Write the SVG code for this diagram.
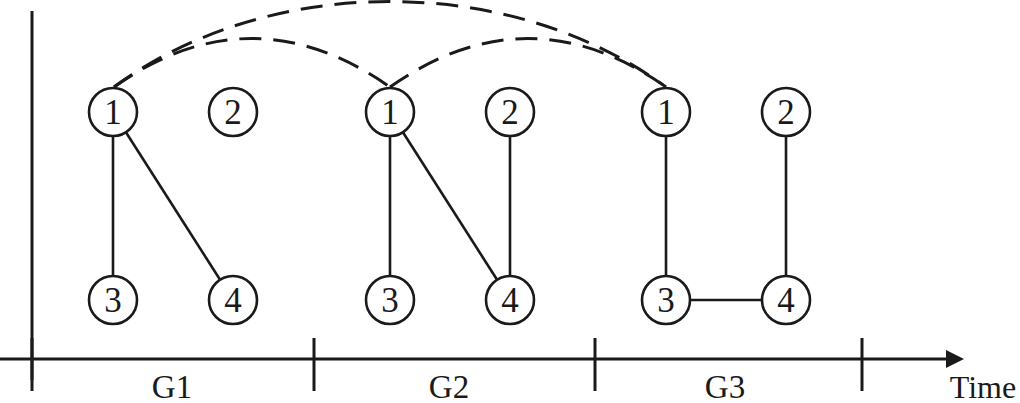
<svg xmlns="http://www.w3.org/2000/svg" width="1020" height="403" viewBox="0 0 1020 403">
<style>
.n circle{fill:#fff;stroke:#1a1a1a;stroke-width:2.6}
.n text{font-family:"Liberation Serif","Times New Roman",serif;font-size:35px;fill:#1a1a1a;text-anchor:middle}
.e{stroke:#1a1a1a;stroke-width:2.6;fill:none}
.d{stroke:#1a1a1a;stroke-width:3;fill:none;stroke-dasharray:22 12}
.ax{stroke:#1a1a1a;stroke-width:3;fill:none}
.lb{font-family:"Liberation Serif","Times New Roman",serif;font-size:33px;fill:#1a1a1a;text-anchor:middle}
</style>
<defs>
<marker id="arr" markerWidth="20" markerHeight="20" refX="0" refY="9" orient="auto" markerUnits="userSpaceOnUse">
<path d="M0,0 L18,9 L0,18 Z" fill="#1a1a1a"/>
</marker>
</defs>
<g id="axes">
<line class="ax" x1="32" y1="11" x2="32" y2="380"/>
<line class="ax" x1="0" y1="359" x2="946" y2="359" marker-end="url(#arr)"/>
<line class="ax" x1="32" y1="338" x2="32" y2="391"/>
<line class="ax" x1="314" y1="338" x2="314" y2="391"/>
<line class="ax" x1="595" y1="338" x2="595" y2="391"/>
<line class="ax" x1="862" y1="338" x2="862" y2="391"/>
<text class="lb" x="172" y="398">G1</text>
<text class="lb" x="449" y="398">G2</text>
<text class="lb" x="725" y="398">G3</text>
<text class="lb" x="983" y="398" style="font-size:32px">Time</text>
</g>
<g id="connectors">
<line class="e" x1="113" y1="112" x2="113" y2="300"/>
<line class="e" x1="113" y1="112" x2="233" y2="300"/>
<line class="e" x1="390" y1="112" x2="390" y2="300"/>
<line class="e" x1="390" y1="112" x2="510" y2="300"/>
<line class="e" x1="510" y1="112" x2="510" y2="300"/>
<line class="e" x1="666" y1="112" x2="666" y2="300"/>
<line class="e" x1="786" y1="112" x2="786" y2="300"/>
<line class="e" x1="666" y1="300" x2="786" y2="300"/>
<path class="d" d="M114,87 Q251,-10 390,87"/>
<path class="d" d="M390,87 Q528,-10 666,87"/>
<path class="d" d="M114,87 C270,-27 510,-27 666,87"/>
</g>
<g id="g1n1" class="n"><circle cx="113" cy="112" r="24"/><text x="113" y="124">1</text></g>
<g id="g1n2" class="n"><circle cx="233" cy="112" r="24"/><text x="233" y="124">2</text></g>
<g id="g1n3" class="n"><circle cx="113" cy="300" r="24"/><text x="113" y="312">3</text></g>
<g id="g1n4" class="n"><circle cx="233" cy="300" r="24"/><text x="233" y="312">4</text></g>
<g id="g2n1" class="n"><circle cx="390" cy="112" r="24"/><text x="390" y="124">1</text></g>
<g id="g2n2" class="n"><circle cx="510" cy="112" r="24"/><text x="510" y="124">2</text></g>
<g id="g2n3" class="n"><circle cx="390" cy="300" r="24"/><text x="390" y="312">3</text></g>
<g id="g2n4" class="n"><circle cx="510" cy="300" r="24"/><text x="510" y="312">4</text></g>
<g id="g3n1" class="n"><circle cx="666" cy="112" r="24"/><text x="666" y="124">1</text></g>
<g id="g3n2" class="n"><circle cx="786" cy="112" r="24"/><text x="786" y="124">2</text></g>
<g id="g3n3" class="n"><circle cx="666" cy="300" r="24"/><text x="666" y="312">3</text></g>
<g id="g3n4" class="n"><circle cx="786" cy="300" r="24"/><text x="786" y="312">4</text></g>
</svg>
